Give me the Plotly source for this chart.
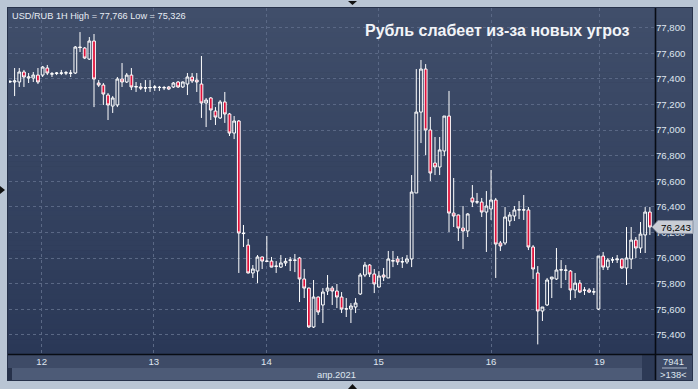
import plotly.graph_objects as go

# ---------------- data (USD/RUB, 1H candles) ----------------
open_ = [77.376, 77.376, 77.376, 77.454, 77.407, 77.407, 77.430, 77.430, 77.485, 77.438,
         77.442, 77.444, 77.446, 77.446, 77.446, 77.649, 77.641, 77.555, 77.696, 77.368,
         77.352, 77.274, 77.188, 77.196, 77.399, 77.376, 77.430, 77.337, 77.337, 77.329,
         77.331, 77.333, 77.335, 77.333, 77.337, 77.337, 77.376, 77.337, 77.360, 77.415,
         77.391, 77.360, 77.212, 77.251, 77.149, 77.095, 77.220, 77.126, 76.977, 77.071,
         76.196, 76.102, 75.884, 75.899, 76.009, 75.977, 75.977, 75.938, 75.930, 75.962,
         75.983, 75.985, 76.001, 75.837, 75.766, 75.462, 75.696, 75.634, 75.743, 75.766,
         75.743, 75.696, 75.602, 75.602, 75.618, 75.720, 75.868, 75.946, 75.876, 75.774,
         75.868, 75.845, 75.977, 75.993, 75.970, 75.970, 75.993, 76.509, 77.141, 77.477,
         77.001, 76.743, 76.712, 76.837, 77.110, 76.352, 76.337, 76.235, 76.212, 76.470,
         76.438, 76.438, 76.360, 76.384, 76.454, 76.118, 76.118, 76.290, 76.329, 76.376,
         76.378, 76.376, 76.087, 75.884, 75.587, 75.634, 75.837, 75.837, 75.907, 75.907,
         75.899, 75.751, 75.805, 75.751, 75.751, 75.735, 75.602, 76.016, 75.930, 75.985,
         75.987, 75.993, 75.923, 75.993, 76.141, 76.079, 76.181, 76.360]

high = [77.391, 77.485, 77.485, 77.470, 77.446, 77.454, 77.485, 77.501, 77.509, 77.454,
        77.454, 77.470, 77.462, 77.470, 77.657, 77.766, 77.649, 77.727, 77.751, 77.391,
        77.368, 77.290, 77.266, 77.415, 77.524, 77.446, 77.485, 77.376, 77.368, 77.391,
        77.391, 77.352, 77.345, 77.345, 77.345, 77.376, 77.384, 77.380, 77.446, 77.446,
        77.446, 77.579, 77.251, 77.258, 77.180, 77.235, 77.298, 77.134, 77.110, 77.079,
        76.259, 76.149, 75.946, 76.024, 76.012, 76.173, 76.009, 75.977, 76.024, 76.001,
        76.009, 76.032, 76.009, 75.915, 75.770, 75.829, 75.700, 75.766, 75.868, 75.782,
        75.798, 75.735, 75.688, 75.649, 75.688, 75.884, 75.970, 75.954, 75.915, 75.899,
        75.923, 76.056, 76.056, 76.016, 76.009, 76.024, 76.649, 77.477, 77.548, 77.516,
        77.103, 76.946, 76.946, 77.110, 77.306, 76.626, 76.340, 76.407, 76.352, 76.571,
        76.509, 76.470, 76.524, 76.688, 76.470, 76.134, 76.399, 76.360, 76.407, 76.446,
        76.493, 76.399, 76.102, 75.938, 75.618, 75.845, 75.852, 76.079, 75.985, 75.946,
        75.907, 75.884, 75.829, 75.774, 75.766, 75.766, 76.016, 76.048, 76.001, 76.009,
        76.024, 75.995, 76.243, 76.243, 76.165, 76.282, 76.399, 76.399]

low = [77.368, 77.266, 77.337, 77.337, 77.368, 77.376, 77.360, 77.415, 77.430, 77.415,
       77.430, 77.430, 77.430, 77.415, 77.438, 77.610, 77.555, 77.548, 77.180, 77.337,
       77.196, 77.079, 77.134, 77.180, 77.337, 77.368, 77.313, 77.298, 77.313, 77.298,
       77.298, 77.306, 77.306, 77.313, 77.313, 77.329, 77.329, 77.329, 77.274, 77.368,
       77.298, 77.095, 77.024, 77.079, 77.040, 77.087, 77.056, 76.954, 76.930, 75.884,
       76.087, 75.880, 75.845, 75.805, 75.915, 75.970, 75.928, 75.884, 75.923, 75.938,
       75.899, 75.891, 75.657, 75.688, 75.454, 75.454, 75.556, 75.493, 75.712, 75.634,
       75.610, 75.571, 75.540, 75.493, 75.571, 75.712, 75.852, 75.852, 75.727, 75.770,
       75.821, 75.845, 75.930, 75.946, 75.923, 75.954, 75.930, 76.509, 76.899, 76.805,
       76.602, 76.649, 76.649, 76.797, 76.204, 76.243, 76.134, 76.071, 76.165, 76.399,
       76.423, 76.321, 76.048, 76.298, 75.845, 76.056, 76.102, 76.251, 76.290, 76.305,
       76.298, 76.063, 75.837, 75.326, 75.509, 75.626, 75.688, 75.829, 75.766, 75.829,
       75.673, 75.688, 75.727, 75.712, 75.727, 75.712, 75.594, 75.907, 75.907, 75.962,
       75.962, 75.915, 75.790, 75.915, 76.001, 76.040, 76.040, 76.181]

close = [77.380, 77.384, 77.454, 77.415, 77.415, 77.430, 77.376, 77.493, 77.446, 77.440,
         77.446, 77.446, 77.448, 77.444, 77.649, 77.645, 77.563, 77.696, 77.399, 77.352,
         77.282, 77.196, 77.251, 77.399, 77.376, 77.430, 77.337, 77.340, 77.329, 77.331,
         77.333, 77.337, 77.333, 77.331, 77.321, 77.368, 77.337, 77.376, 77.415, 77.384,
         77.376, 77.212, 77.235, 77.157, 77.102, 77.220, 77.126, 76.977, 77.071, 76.196,
         76.192, 75.884, 75.915, 76.009, 75.977, 75.975, 75.930, 75.936, 75.962, 75.975,
         75.985, 75.983, 75.837, 75.766, 75.462, 75.696, 75.579, 75.735, 75.766, 75.743,
         75.696, 75.602, 75.604, 75.626, 75.649, 75.868, 75.946, 75.876, 75.798, 75.860,
         75.852, 75.993, 75.980, 75.970, 75.972, 75.993, 76.516, 77.141, 77.477, 77.001,
         76.665, 76.712, 76.845, 77.110, 76.352, 76.329, 76.235, 76.212, 76.345, 76.438,
         76.440, 76.360, 76.407, 76.454, 76.110, 76.095, 76.321, 76.337, 76.376, 76.378,
         76.376, 76.087, 75.915, 75.587, 75.618, 75.829, 75.852, 75.907, 75.909, 75.905,
         75.751, 75.805, 75.735, 75.749, 75.735, 75.737, 76.016, 75.930, 75.985, 75.987,
         75.993, 75.923, 76.001, 76.141, 76.079, 76.188, 76.360, 76.243]

day_labels = ["12", "13", "14", "15", "16", "19"]
day_ticks = [6.8, 30.8, 54.9, 78.9, 103.0, 126.2]
header_text = "USD/RUB 1H High = 77,766 Low = 75,326"
title_text = "Рубль слабеет из-за новых угроз"
month_text = "апр.2021"
last_price_text = "76,243"
bars_total_text = "7941"
bars_visible_text = "&gt;138&lt;"

# ---------------- geometry ----------------
W, H = 698, 389
PL, PR, PT, PB = 9, 655, 8, 354
YMIN, YMAX = 75.251, 77.954
XMIN, XMAX = -0.2, 138.1
FONT = "Liberation Sans, Arial, sans-serif"


def fx(p):
    return (p - PL) / (PR - PL)


def fy(p):
    return (PB - p) / (PB - PT)


shapes = []


def rect(x0, y0, x1, y1, color, layer="below"):
    shapes.append(dict(type="rect", xref="paper", yref="paper",
                       x0=fx(x0), x1=fx(x1), y0=fy(y1), y1=fy(y0),
                       fillcolor=color, line=dict(width=0), layer=layer))


def line(x0, y0, x1, y1, color, width=1, layer="above"):
    shapes.append(dict(type="line", xref="paper", yref="paper",
                       x0=fx(x0), x1=fx(x1), y0=fy(y0), y1=fy(y1),
                       line=dict(color=color, width=width), layer=layer))


def poly(pts, color, layer="above"):
    d = "M " + " L ".join("%f %f" % (fx(a), fy(b)) for a, b in pts) + " Z"
    shapes.append(dict(type="path", xref="paper", yref="paper", path=d,
                       fillcolor=color, line=dict(width=0), layer=layer))


# dark outer frame
rect(7, 7, 693, 381, "#26314a")
# gradient background of plot + right axis
N = 70
top = (64, 78, 106)
bot = (42, 56, 87)
for i in range(N):
    y0 = PT + (PB - PT) * i / N
    y1 = PT + (PB - PT) * (i + 1) / N + 0.6
    t = (i + 0.5) / N
    c = tuple(round(top[k] + (bot[k] - top[k]) * t) for k in range(3))
    rect(8, y0, 692, y1, "rgb(%d,%d,%d)" % c)
# bottom axis strip
rect(8, 354, 692, 368, "#3e4b67")
rect(12, 368, 642, 380, "#4d5b77")
rect(642, 355, 655, 380, "#2d3a56")
rect(656, 355, 692, 380, "#3e4b67")
# separators
line(655.5, 8, 655.5, 380, "#080c14", 1.6)
line(8, 354.5, 692, 354.5, "#080c14", 1.6)
line(662, 368, 687, 368, "#aab6c8", 1)
# little triangles on the frame
poly([(0, 186), (5, 190), (0, 194)], "#111111")
poly([(348, 1), (357, 1), (352.5, 5)], "#111111")
poly([(348, 389), (357, 389), (352.5, 384)], "#111111")

# last price marker (box with arrow tip)
ppu = (PB - PT) / (YMAX - YMIN)
last = close[-1]
hh = 6.5 / ppu
shapes.append(dict(type="path", xref="paper", yref="y",
                   path="M %f %f L %f %f L %f %f L %f %f L %f %f Z" % (
                       fx(652), last, fx(658), last + hh, fx(693), last + hh,
                       fx(693), last - hh, fx(658), last - hh),
                   fillcolor="#c9cdd5", line=dict(color="#8a93a3", width=1),
                   layer="above"))

fig = go.Figure()
fig.add_trace(go.Candlestick(
    x=list(range(len(open_))), open=open_, high=high, low=low, close=close,
    increasing=dict(line=dict(color="#ffffff", width=1), fillcolor="rgba(0,0,0,0)"),
    decreasing=dict(line=dict(color="#ffffff", width=1), fillcolor="#e0103a"),
    whiskerwidth=0, hoverinfo="skip", showlegend=False,
))

annotations = [
    dict(text=header_text, x=fx(10), y=fy(15.5), xanchor="left", yanchor="middle",
         font=dict(family=FONT, size=9.2, color="#e6ecf4")),
    dict(text="<b>" + title_text + "</b>", x=fx(363), y=fy(30.5), xanchor="left",
         yanchor="middle", font=dict(family=FONT, size=16, color="#f2f4f8")),
    dict(text=month_text, x=fx(336), y=fy(374), xanchor="center", yanchor="middle",
         font=dict(family=FONT, size=9.4, color="#dfe6ef")),
    dict(text=bars_total_text, x=fx(673), y=fy(361.5), xanchor="center", yanchor="middle",
         font=dict(family=FONT, size=9.4, color="#dfe6ef")),
    dict(text=bars_visible_text, x=fx(673), y=fy(374), xanchor="center", yanchor="middle",
         font=dict(family=FONT, size=9.4, color="#dfe6ef")),
    dict(text=last_price_text, x=fx(659), y=last, xref="paper", yref="y",
         xanchor="left", yanchor="middle",
         font=dict(family=FONT, size=9.8, color="#000000")),
]
for a in annotations:
    a.setdefault("xref", "paper")
    a.setdefault("yref", "paper")
    a["showarrow"] = False

fig.update_layout(
    width=W, height=H,
    margin=dict(l=PL, r=W - PR, t=PT, b=H - PB, pad=0),
    paper_bgcolor="#b9c5d4", plot_bgcolor="rgba(0,0,0,0)",
    separators=", ",
    boxgap=0.15,
    shapes=shapes, annotations=annotations,
    xaxis=dict(range=[XMIN, XMAX], rangeslider=dict(visible=False),
               tickmode="array", tickvals=day_ticks, ticktext=day_labels,
               showgrid=True, gridcolor="#5a6885", griddash="3px,3px", gridwidth=1,
               ticks="", showline=False, zeroline=False,
               tickfont=dict(family=FONT, size=9.6, color="#dfe6ef")),
    yaxis=dict(range=[YMIN, YMAX], side="right", tickmode="linear", tick0=75.4, dtick=0.2,
               tickformat=".3f", showgrid=True, gridcolor="#5a6885", griddash="3px,3px",
               gridwidth=1, ticks="", showline=False, zeroline=False,
               tickfont=dict(family=FONT, size=9.6, color="#dfe6ef")),
    hovermode=False,
)

fig.write_html("out.html", config={"displayModeBar": False, "staticPlot": True},
               post_script="document.body.style.margin='0';document.body.style.overflow='hidden';")
